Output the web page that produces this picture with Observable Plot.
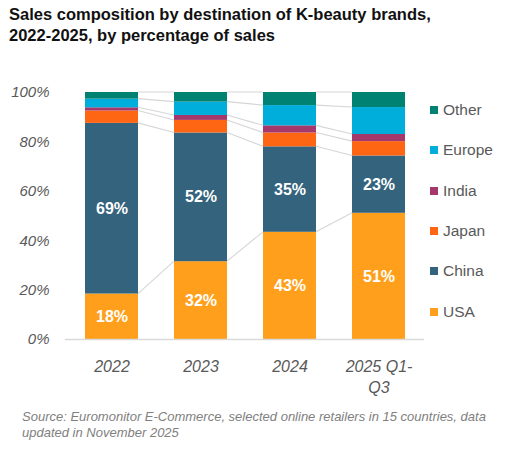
<!DOCTYPE html>
<html>
<head>
<meta charset="utf-8">
<script src="https://cdn.jsdelivr.net/npm/d3@7"></script>
<script src="https://cdn.jsdelivr.net/npm/@observablehq/plot@0.6"></script>
<style>
  html, body { margin: 0; padding: 0; background: #fff; }
  body { width: 514px; height: 457px; position: relative; overflow: hidden; font-family: "Liberation Sans", Arial, sans-serif; }
  #title { position: absolute; left: 9px; top: 4px; font-size: 16.5px; font-weight: bold; line-height: 21px; color: #111; }
  #chart { position: absolute; left: 0; top: 80px; }
  #legend { position: absolute; left: 430px; top: 0; }
  .li { position: absolute; left: 0; display: flex; align-items: center; white-space: nowrap; font-size: 15.5px; color: #595959; height: 20px; }
  .sw { width: 8px; height: 8px; margin-right: 5px; }
  #caption { position: absolute; left: 22px; top: 409px; font-size: 13px; line-height: 15.5px; font-style: italic; color: #808080; width: 480px; }
</style>
</head>
<body>
<div id="title">Sales composition by destination of K-beauty brands,<br>2022-2025, by percentage of sales</div>
<div id="chart"></div>
<div id="legend"></div>
<div id="caption">Source: Euromonitor E-Commerce, selected online retailers in 15 countries, data<br>updated in November 2025</div>
<script>
// ---- data ----
const years = ["2022", "2023", "2024", "2025 Q1-Q3"];
const yearLabels = ["2022", "2023", "2024", "2025 Q1-\nQ3"];
const destinations = ["USA", "China", "Japan", "India", "Europe", "Other"];
const colors = ["#FF9F1C", "#33637D", "#FF6613", "#A5386B", "#00AEDB", "#008272"];
const usa    = [18.4, 31.5, 43.4, 51.1];
const china  = [69.1, 52.1, 34.6, 23.2];
const japan  = [5.0, 5.1, 5.6, 5.8];
const india  = [1.3, 2.0, 2.9, 2.9];
const europe = [3.5, 5.4, 8.2, 10.9];
const other  = [2.7, 3.9, 5.3, 6.1];
const labeled = ["USA", "China"];
const yTicks = [0, 20, 40, 60, 80, 100];

const series = [usa, china, japan, india, europe, other];
const rows = [];
destinations.forEach((d, k) => years.forEach((y, i) => rows.push({year: y, dest: d, value: series[k][i]})));

// cumulative tops for connector lines
const cum = years.map((y, i) => Array.from(d3.cumsum(series.map(s => s[i]))));
const links = [];
for (let i = 0; i < years.length - 1; i++) {
  destinations.forEach((d, k) => links.push({a: years[i], b: years[i + 1], ya: cum[i][k], yb: cum[i + 1][k]}));
}

const font = '"Liberation Sans", Arial, sans-serif';

const plot = Plot.plot({
  width: 430,
  height: 300,
  marginLeft: 65,
  marginRight: 6,
  marginTop: 12,
  marginBottom: 41,
  style: {fontFamily: font, background: "transparent", overflow: "visible"},
  x: {domain: years, paddingInner: 0.41, paddingOuter: 0.2},
  y: {domain: [0, 100]},
  color: {domain: destinations, range: colors},
  marks: [
    Plot.link(links, {
      x1: "a", x2: "b", y1: "ya", y2: "yb", stroke: "#d9d9d9",
      render: (index, scales, values) => {
        const xs = scales.x;
        const bw = typeof xs.bandwidth === "function" ? xs.bandwidth() : scales.scales.x.bandwidth;
        const g = d3.create("svg:g");
        for (const i of index) {
          g.append("line")
            .attr("x1", values.x1[i] + bw).attr("y1", values.y1[i])
            .attr("x2", values.x2[i]).attr("y2", values.y2[i])
            .attr("stroke", "#d6d6d6").attr("stroke-width", 1.1);
        }
        return g.node();
      }
    }),
    Plot.barY(rows, {x: "year", y: "value", fill: "dest", order: destinations}),
    Plot.text(rows, Plot.stackY({
      x: "year", y: "value", z: "dest", order: destinations,
      text: d => labeled.includes(d.dest) ? Math.round(d.value) + "%" : "",
      fill: "white", fontWeight: "bold", fontSize: 16
    })),
    Plot.ruleY([0], {stroke: "#d9d9d9", strokeWidth: 1.3}),
    Plot.axisY({
      ticks: yTicks, tickSize: 0, tickPadding: 16, tickFormat: d => d + "%",
      fontSize: 15, fontStyle: "italic", fill: "#595959", label: null
    }),
    Plot.axisX({
      tickSize: 0, tickPadding: 17, tickFormat: d => yearLabels[years.indexOf(d)],
      fontSize: 16, fontStyle: "italic", fill: "#595959", lineHeight: 1.33, label: null
    })
  ]
});
document.getElementById("chart").appendChild(plot);

// legend (top = Other)
const legend = document.getElementById("legend");
destinations.slice().reverse().forEach((d, i) => {
  const row = document.createElement("div");
  row.className = "li";
  row.style.top = (100 + i * 40.3) + "px";
  const sw = document.createElement("span");
  sw.className = "sw";
  sw.style.background = colors[destinations.indexOf(d)];
  const t = document.createElement("span");
  t.textContent = d;
  row.appendChild(sw); row.appendChild(t);
  legend.appendChild(row);
});
</script>
</body>
</html>
